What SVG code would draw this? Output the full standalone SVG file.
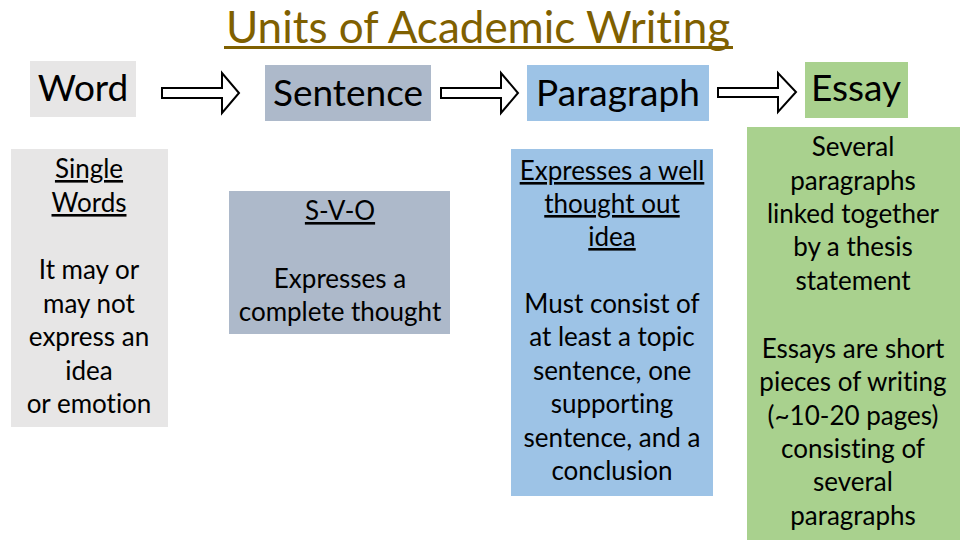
<svg xmlns="http://www.w3.org/2000/svg" width="960" height="540" viewBox="0 0 960 540">
<style>
text{font-family:Lato,"Liberation Sans",sans-serif;fill:#000;text-anchor:middle;font-variant-ligatures:none}
.h{font-size:37px}
.d{font-size:26px}
.u{text-decoration:underline}
.arr{fill:#fff;stroke:#000;stroke-width:2;stroke-linejoin:miter}
.word{fill:#e7e6e6}.sent{fill:#adb9ca}.para{fill:#9dc3e6}.essay{fill:#a9d18e}
</style>
<rect width="960" height="540" fill="#fff"/>
<g id="title">
<text x="478" y="43" style="font-size:44px;fill:#7f6000">Units of Academic Writing</text>
<rect x="224" y="46" width="509" height="3" fill="#7f6000"/>
</g>
<g id="word">
<rect class="word" x="30" y="61" width="106" height="56"/>
<text class="h" x="83" y="101">Word</text>
</g>
<g id="sentence">
<rect class="sent" x="265" y="65" width="166" height="56"/>
<text class="h" x="348" y="106">Sentence</text>
</g>
<g id="paragraph">
<rect class="para" x="527" y="65" width="182" height="56"/>
<text class="h" x="618" y="106">Paragraph</text>
</g>
<g id="essay">
<rect class="essay" x="805" y="62" width="103" height="56"/>
<text class="h" x="856" y="101">Essay</text>
</g>
<g id="word-detail">
<rect class="word" x="11" y="149" width="157" height="278"/>
<text class="d" x="89"><tspan class="u" x="89" y="178">Single</tspan><tspan class="u" x="89" y="212">Words</tspan><tspan x="89" y="279">It may or</tspan><tspan x="89" y="313">may not</tspan><tspan x="89" y="346">express an</tspan><tspan x="89" y="380">idea</tspan><tspan x="89" y="413">or emotion</tspan></text>
</g>
<g id="sentence-detail">
<rect class="sent" x="229" y="191" width="221" height="143"/>
<text class="d" x="340"><tspan class="u" x="340" y="220">S-V-O</tspan><tspan x="340" y="288">Expresses a</tspan><tspan x="340" y="321">complete thought</tspan></text>
</g>
<g id="paragraph-detail">
<rect class="para" x="511" y="149" width="202" height="347"/>
<text class="d" x="612"><tspan class="u" x="612" y="180">Expresses a well</tspan><tspan class="u" x="612" y="213">thought out</tspan><tspan class="u" x="612" y="246">idea</tspan><tspan x="612" y="313">Must consist of</tspan><tspan x="612" y="346">at least a topic</tspan><tspan x="612" y="380">sentence, one</tspan><tspan x="612" y="413">supporting</tspan><tspan x="612" y="447">sentence, and a</tspan><tspan x="612" y="480">conclusion</tspan></text>
</g>
<g id="essay-detail">
<rect class="essay" x="747" y="127" width="213" height="413"/>
<text class="d" x="853"><tspan x="853" y="156">Several</tspan><tspan x="853" y="190">paragraphs</tspan><tspan x="853" y="223">linked together</tspan><tspan x="853" y="256">by a thesis</tspan><tspan x="853" y="290">statement</tspan><tspan x="853" y="358">Essays are short</tspan><tspan x="853" y="391">pieces of writing</tspan><tspan x="853" y="425">(~10-20 pages)</tspan><tspan x="853" y="458">consisting of</tspan><tspan x="853" y="491">several</tspan><tspan x="853" y="525">paragraphs</tspan></text>
</g>
<g id="connectors">
<polygon class="arr" points="162,88 222,88 222,73 239,93 222,113 222,98 162,98"/>
<polygon class="arr" points="441,88 501,88 501,73 518,93 501,113 501,98 441,98"/>
<polygon class="arr" points="718,88 778,88 778,73 796,92 778,112 778,97 718,97"/>
</g>
</svg>
